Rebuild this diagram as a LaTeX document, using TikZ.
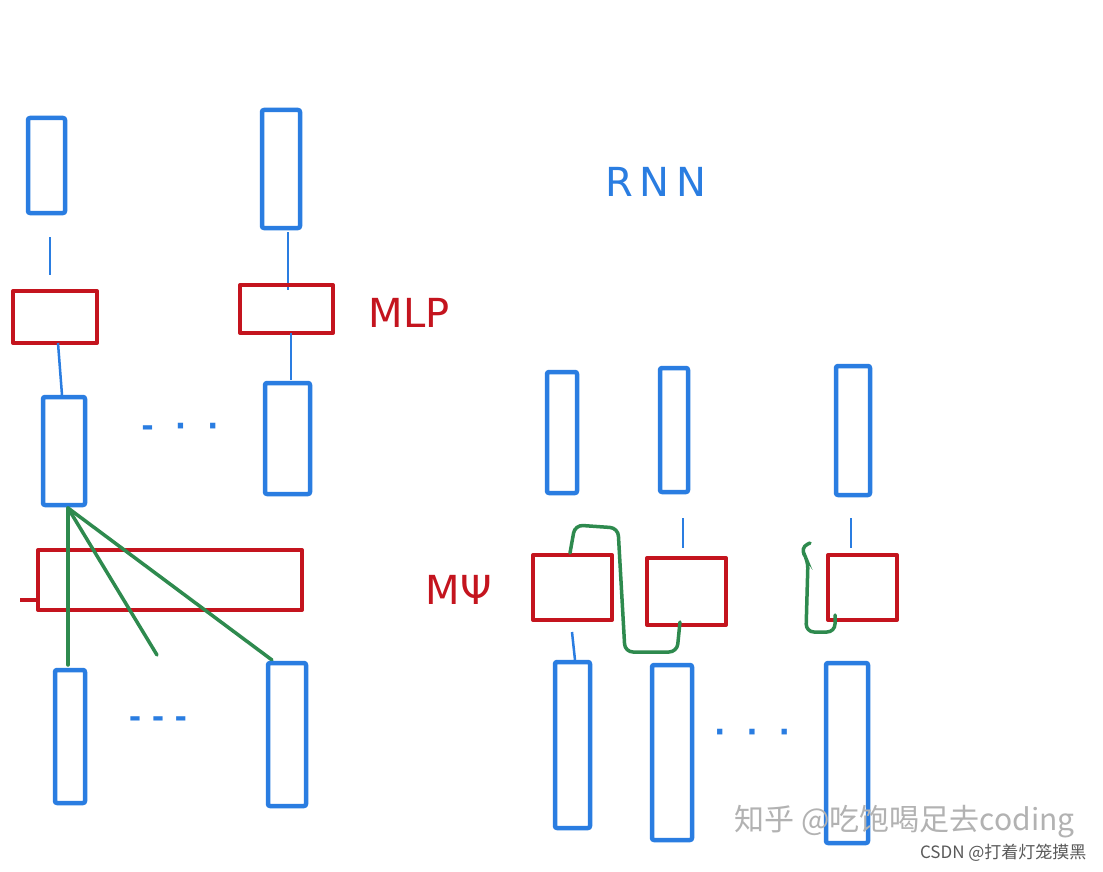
\documentclass[tikz,border=0pt]{standalone}
\usepackage{fontspec}
\newfontfamily\cjk{Noto Sans CJK SC}
\newfontfamily\djv{DejaVu Sans}
\definecolor{pb}{HTML}{2A7DE1}
\definecolor{pr}{HTML}{C4141E}
\definecolor{pg}{HTML}{2E8A4E}
\begin{document}
\begin{tikzpicture}[x=1pt,y=-1pt,
  bb/.style={draw=pb,line width=4.5pt,line join=round,rounded corners=2pt},
  rb/.style={draw=pr,line width=4pt,line join=round},
  gl/.style={draw=pg,line width=3.5pt,line cap=round,rounded corners=8pt},
  bl/.style={draw=pb,line width=2.5pt},
  lab/.style={font=\djv\fontsize{40}{40}\selectfont},
  dots/.style={font=\djv\bfseries\fontsize{30}{30}\selectfont,text=pb}]
\useasboundingbox[fill=white] (0,0) rectangle (1103,872);
% left top
\draw[bb] (28,118) rectangle (65,213);
\draw[bl] (50,237) -- (50,275);
\draw[rb] (13,291) rectangle (97,343);
\draw[bl] (58,343) -- (62,395);
\draw[bb] (43,397) rectangle (85,505);
\node[dots] (d1) at (180,430) {-\ \ ·\ \ ·};
\draw[bb] (262,110) rectangle (300,228);
\draw[bl] (288,232) -- (288,290);
\draw[rb] (240,285) rectangle (333,333);
\draw[bl] (291,333) -- (291,380);
\draw[bb] (265,383) rectangle (310,494);
\node[pr,lab,anchor=west] (mlp) at (365,313) {MLP};
% left bottom
\draw[rb] (38,550) rectangle (302,610);
\draw[rb] (20,600) -- (38,600);
\draw[gl] (68,508) -- (68,665);
\draw[gl] (68,508) -- (157,655);
\draw[gl] (68,508) -- (272,660);
\draw[bb] (55,670) rectangle (85,803);
\draw[bb] (268,663) rectangle (306,806);
\node[dots] (d2) at (158,722) {-\ -\ -};
% right
\node[pb,lab,anchor=west] (rnn) at (602,182) {R\,N\,N};
\draw[bb] (547,372) rectangle (577,493);
\draw[bb] (660,368) rectangle (688,492);
\draw[bb] (836,366) rectangle (870,495);
\draw[bl] (683,518) -- (683,548);
\draw[bl] (851,518) -- (851,548);
\draw[rb] (533,555) rectangle (612,620);
\draw[rb] (647,558) rectangle (726,625);
\draw[rb] (828,555) rectangle (897,620);
\node[pr,lab,anchor=west] (mpsi) at (422,590) {MΨ};
\draw[bl] (572,632) -- (575,660);
\draw[gl] (570,553) -- (575,525) -- (618,528) -- (625,652) -- (677,652) -- (680,622);
\draw[gl] (810,543) -- (800,548) -- (808,560) -- (806,632) -- (835,632) -- (835,615);
\draw[bb] (555,662) rectangle (590,828);
\draw[bb] (652,665) rectangle (692,840);
\draw[bb] (826,663) rectangle (868,843);
\node[dots] (d3) at (752,736) {·\ \ ·\ \ ·};
% watermark
\node[gray!60,font=\cjk\fontsize{30}{30}\selectfont,anchor=east] (w1) at (1078,822) {知乎 @吃饱喝足去coding};
\node[gray!70!black,font=\cjk\fontsize{17}{17}\selectfont,anchor=east] (w2) at (1090,853) {CSDN @打着灯笼摸黑};
\end{tikzpicture}
\end{document}
